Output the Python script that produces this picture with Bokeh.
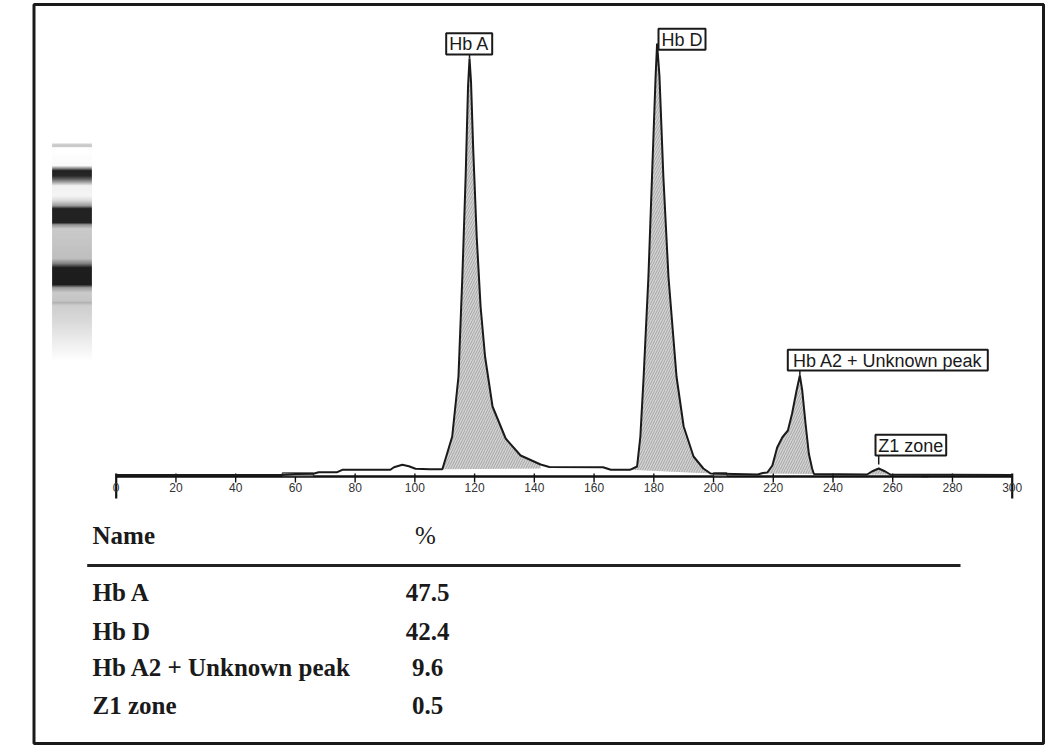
import numpy as np
from bokeh.plotting import figure
from bokeh.models import Range1d
from bokeh.core.properties import value
from bokeh.embed import file_html
from bokeh.resources import INLINE

# ---------------- data ----------------
# electropherogram trace (migration units, signal height)
chrom_x = [0, 55, 60, 66, 67.8, 74, 75.7, 91.8, 93, 95.8, 98, 100.2, 105, 109.2,
           110.8, 112.5, 114.6, 115.9, 117, 117.8, 118.3, 118.8, 119.5, 120.7, 122,
           123.5, 126, 130.4, 135.4, 142.1, 145, 163, 165.6, 172,
           174.4, 175.5, 176.6, 178.2, 179.4, 180.6, 181.1, 181.9, 183.2, 184.9,
           187.6, 190, 193.3, 196.6, 199,
           214.8, 216.5, 218, 219.7, 221.3, 223.0, 224.9, 226.3, 227.8, 228.9,
           229.7, 230.8, 231.9, 233.0, 233.6,
           251.4, 253, 255.3, 257.5, 259.2, 300]
chrom_h = [1.5, 1.5, 2.5, 2.7, 4.3, 4.3, 6.7, 6.7, 9.3, 11.7, 10.3, 7.7, 7.2, 7.2,
           23, 40, 100, 200, 300, 390, 418, 395, 330, 240, 170,
           120, 70, 38, 21, 12, 9.5, 9.3, 6.7, 6.7,
           10, 40, 100, 200, 300, 400, 433, 400, 300, 200,
           100, 50, 20, 8, 3,
           2, 3.5, 4, 11, 29, 39, 46, 63, 86, 101,
           86, 53, 23, 8, 2.5,
           2, 5, 8, 5, 2, 1.5]

# integrated peaks: start, end, baseline at start, baseline at end
peak_names = ["Hb A", "Hb D", "Hb A2 + Unknown peak", "Z1 zone"]
peak_start = [109.2, 172, 218, 251.4]
peak_end = [142.1, 199, 233.6, 259.2]
peak_base0 = [7.2, 6.7, 3.0, 2.0]
peak_base1 = [8.0, 3.0, 2.5, 2.0]
peak_apex_x = [118.3, 181.1, 228.9, 255.3]

# small zone markers on the baseline
marker_left = [55.6, 200.0]
marker_right = [66.0, 204.5]

tick_vals = list(range(0, 301, 20))
tick_labels = [str(t) for t in tick_vals]

table_names = ["Hb A", "Hb D", "Hb A2 + Unknown peak", "Z1 zone"]
table_pct = ["47.5", "42.4", "9.6", "0.5"]

# gel strip grey stops (page row, grey level)
gel_stop_y = [140, 142.5, 143.5, 146, 147, 165, 168, 170, 175, 178, 182, 185, 195,
              200, 205, 208, 222, 224, 228, 258, 263, 267, 284, 287, 292, 300, 302,
              305, 320, 345, 360]
gel_stop_g = [255, 255, 200, 200, 255, 250, 120, 25, 30, 80, 170, 240, 245,
              215, 150, 25, 25, 140, 200, 188, 120, 20, 20, 150, 200, 195, 175,
              205, 215, 240, 255]

# ---------------- layout helpers (page pixels -> data) ----------------
W, H = 1060, 745
PX0 = 115.7      # page x of migration 0
PXS = 2.9867     # px per migration unit
AXIS_Y = 476.0   # page y of axis line


def ux(px):
    return (px - PX0) / PXS


def hy(py):
    return AXIS_Y - py


p = figure(width=W, height=H, x_range=Range1d(ux(0), ux(W)),
           y_range=Range1d(hy(H), hy(0)), output_backend="svg",
           toolbar_location=None, min_border=0,
           x_axis_location=None, y_axis_location=None)
p.grid.visible = False
p.outline_line_color = None
p.background_fill_color = "white"
p.border_fill_color = "white"

# ---- outer frame ----
p.quad(left=[ux(33.5)], right=[ux(1043)], top=[hy(4)], bottom=[hy(743)],
       fill_color=None, line_color="#1a1a1a", line_width=3)

# ---- gel strip ----
rows = np.arange(140, 361, 1.0)
greys = np.interp(rows, gel_stop_y, gel_stop_g).astype(int)
cols = ["#%02x%02x%02x" % (g, g, g) for g in greys]
p.quad(left=[ux(52)] * len(rows), right=[ux(91)] * len(rows),
       top=[hy(r) for r in rows], bottom=[hy(r + 1) for r in rows],
       fill_color=cols, line_color=cols, line_width=0.6)

# ---- peak fills ----
cx = np.array(chrom_x)
ch = np.array(chrom_h)
for a, b, b0, b1 in zip(peak_start, peak_end, peak_base0, peak_base1):
    m = (cx >= a) & (cx <= b)
    xs = [a] + list(cx[m]) + [b]
    ys = [b0] + list(ch[m]) + [b1]
    p.patch(xs, ys, fill_color="#d4d4d4", line_color=None,
            hatch_pattern="/", hatch_color="#8f8f8f", hatch_scale=5,
            hatch_weight=0.7)

# ---- axis ----
p.segment(x0=[tick_vals[0]], x1=[tick_vals[-1]], y0=[0], y1=[0],
          line_color="#111111", line_width=2.6)
long_tick = [t in (tick_vals[0], tick_vals[-1]) for t in tick_vals]
p.segment(x0=tick_vals, x1=tick_vals, y0=[hy(473)] * len(tick_vals),
          y1=[hy(498) if lt else hy(482) for lt in long_tick],
          line_color="#111111", line_width=[2.2 if lt else 1.4 for lt in long_tick])
p.text(x=tick_vals, y=[hy(487)] * len(tick_vals), text=tick_labels,
       text_font=value("Liberation Sans"), text_font_size="12px",
       text_align="center", text_baseline="middle", text_color="#333333")

# baseline zone markers
p.quad(left=marker_left, right=marker_right, bottom=[0.4] * 2, top=[3.7] * 2,
       fill_color="#b5b5b5", line_color="#333333", line_width=1)
p.quad(left=[269.5], right=[272.0], bottom=[-0.8], top=[0.8],
       fill_color="#111111", line_color=None)

# ---- trace ----
p.line(chrom_x, chrom_h, line_color="#1a1a1a", line_width=2)

# ---- peak labels ----
box_left = [445.7, 658.0, 787.3, 875.0]
box_right = [491.7, 705.0, 987.3, 945.7]
box_top = [32.7, 28.3, 349.3, 434.3]
box_bot = [54.0, 49.3, 370.0, 455.0]
conn_end = [58.0, 44.0, 375.0, 464.0]
for i in range(4):
    if i != 1:
        p.segment(x0=[peak_apex_x[i]], x1=[peak_apex_x[i]], y0=[hy(box_bot[i])],
                  y1=[hy(conn_end[i])], line_color="#1a1a1a", line_width=1.5)
p.segment(x0=[peak_apex_x[1]], x1=[ux(box_left[1])], y0=[hy(conn_end[1])],
          y1=[hy(box_bot[1] - 4)], line_color="#1a1a1a", line_width=1.5)
p.quad(left=[ux(v) for v in box_left], right=[ux(v) for v in box_right],
       top=[hy(v) for v in box_top], bottom=[hy(v) for v in box_bot],
       fill_color="white", line_color="#1a1a1a", line_width=2)
p.text(x=[ux((l + r) / 2) for l, r in zip(box_left, box_right)],
       y=[hy((t + b) / 2 + 0.5) for t, b in zip(box_top, box_bot)],
       text=peak_names, text_font=value("Liberation Sans"),
       text_font_size="18px", text_align="center", text_baseline="middle",
       text_color="#1a1a1a")

# ---- result table ----
serif = value("Liberation Serif")
p.text(x=[ux(92)], y=[hy(535)], text=["Name"], text_font=serif,
       text_font_style="bold", text_font_size="25px", text_align="left",
       text_baseline="middle", text_color="#1a1a1a")
p.text(x=[ux(425)], y=[hy(535)], text=["%"], text_font=serif,
       text_font_style="normal", text_font_size="25px", text_align="center",
       text_baseline="middle", text_color="#1a1a1a")
p.segment(x0=[ux(86.7)], x1=[ux(960)], y0=[hy(565)], y1=[hy(565)],
          line_color="#222222", line_width=3)
row_mid = [592.0, 631.3, 666.5, 705.0]
p.text(x=[ux(92)] * 4, y=[hy(v) for v in row_mid], text=table_names,
       text_font=serif, text_font_style="bold", text_font_size="25px",
       text_align="left", text_baseline="middle", text_color="#1a1a1a")
p.text(x=[ux(427)] * 4, y=[hy(v) for v in row_mid], text=table_pct,
       text_font=serif, text_font_style="bold", text_font_size="25px",
       text_align="center", text_baseline="middle", text_color="#1a1a1a")

open("out.html", "w").write(file_html(p, INLINE))
